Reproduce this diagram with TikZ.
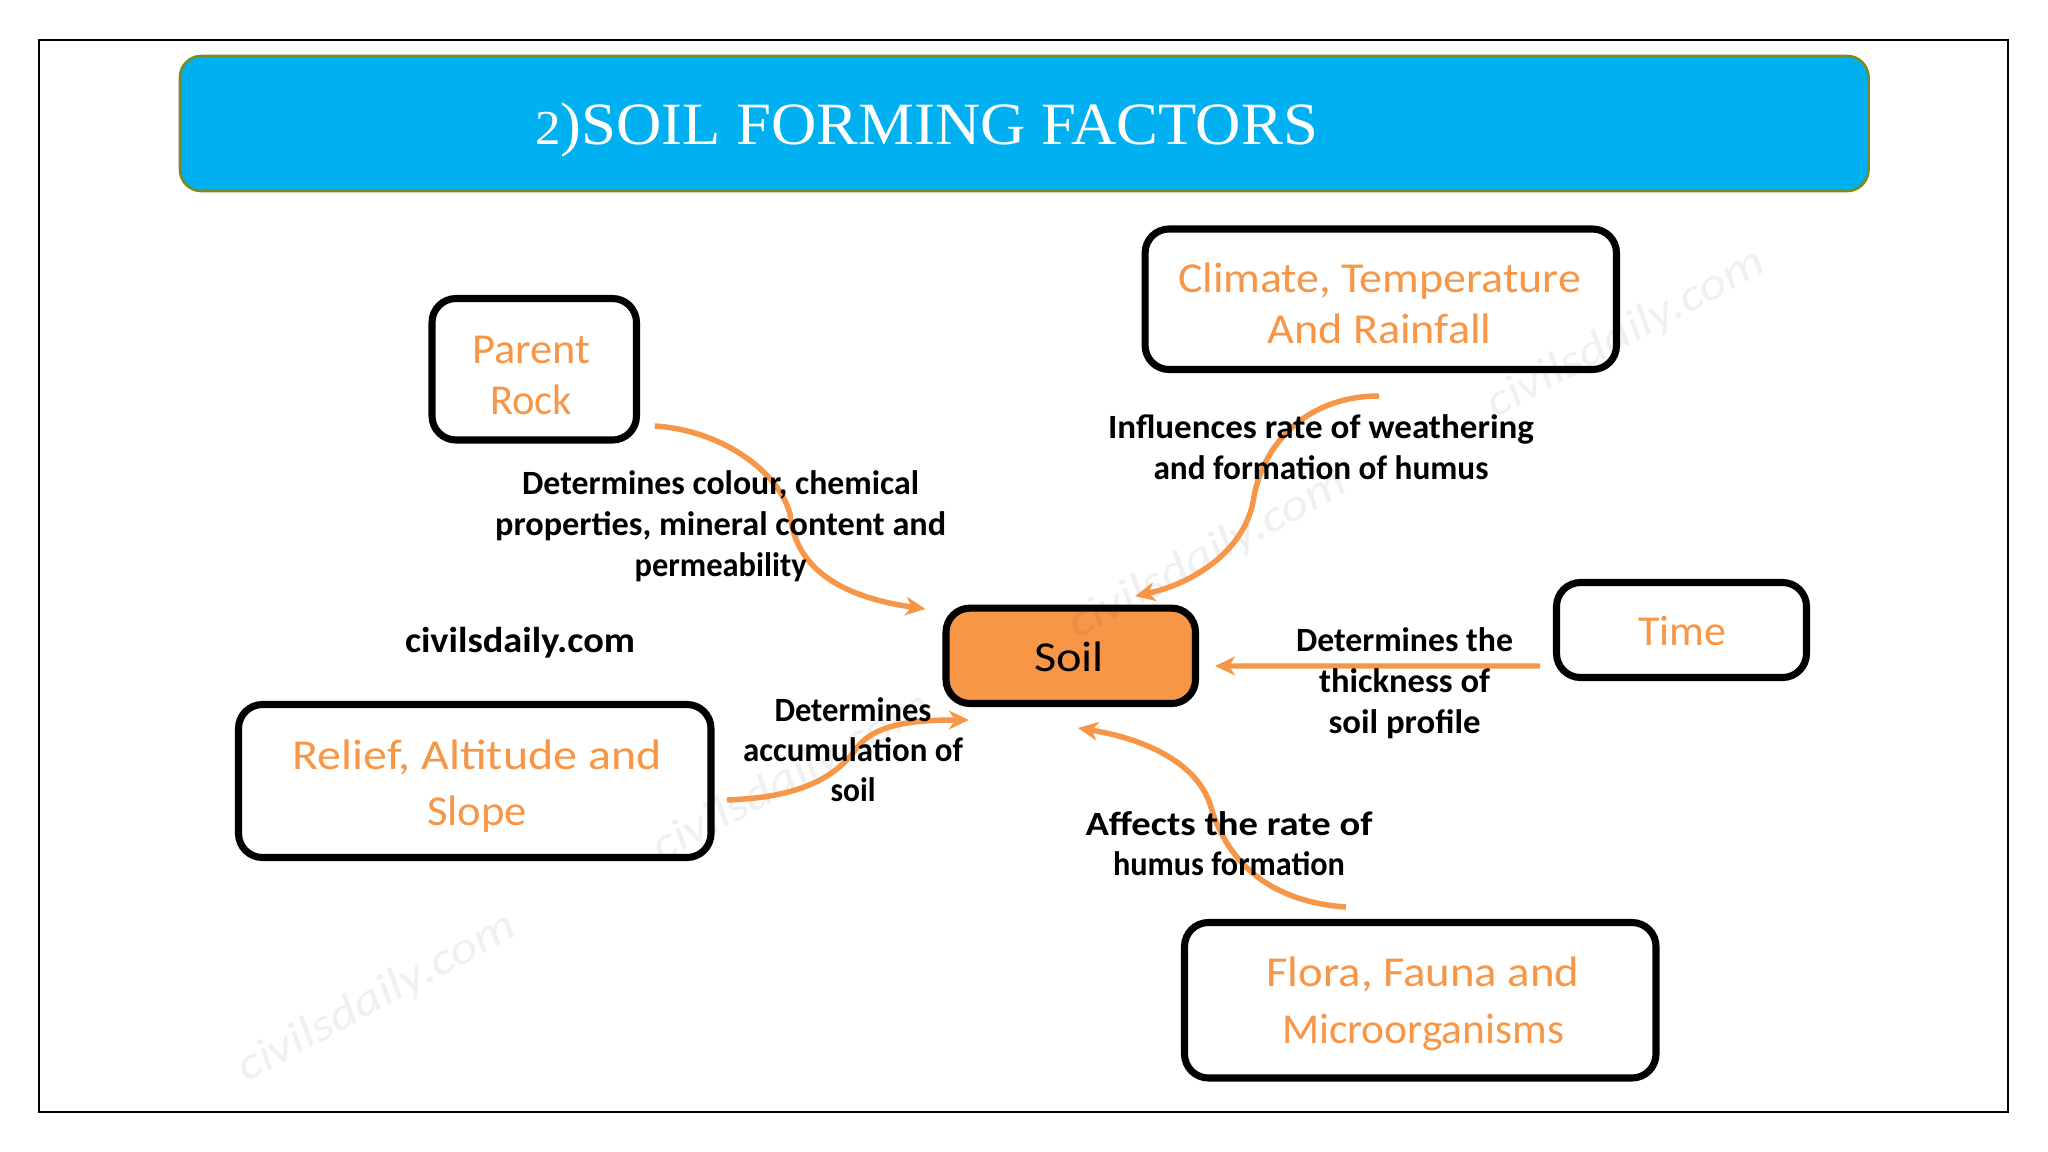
\documentclass[tikz,border=0pt]{standalone}
\usepackage{fontspec}
\usepackage{graphicx}
\usetikzlibrary{arrows.meta}
\setmainfont{Carlito}
\newfontfamily\titlefont{Liberation Serif}
\definecolor{soilorange}{HTML}{F79646}
\definecolor{bannerblue}{HTML}{00B0F0}
\definecolor{banneredge}{HTML}{7A8B22}
\def\px{*0.75pt}
\newsavebox\fitbox
\newcommand\fitw[2]{\sbox\fitbox{#2}\pgfmathsetmacro\fitr{(#1*0.75)/(\wd\fitbox)}\scalebox{\fitr}[1]{\usebox\fitbox}}
\newcommand\twolines[2]{\begin{tabular}[t]{@{}c@{}}#1\\#2\end{tabular}}
\newcommand\threelines[3]{\begin{tabular}[t]{@{}c@{}}#1\\#2\\#3\end{tabular}}
\tikzset{
  x=0.75pt,y=-0.75pt,
  factorbox/.style={draw=black,line width=5.3pt,fill=white,rounded corners=18pt,inner sep=0pt,outer sep=0pt},
  factortext/.style={anchor=base,inner sep=0pt,outer sep=0pt,text=soilorange,font=\fontsize{32}{38.25}\selectfont},
  reliefflora/.style={factortext,font=\fontsize{32}{42.5}\selectfont},
  linktext/.style={anchor=base,inner sep=0pt,outer sep=0pt,text=black,font=\fontsize{25.5}{30.75}\selectfont\bfseries},
  link/.style={draw=soilorange,line width=4.1pt,-{Stealth[length=15pt,width=14pt,inset=4.5pt]}},
  watermark/.style={inner sep=0pt,rotate=28.5,text=black,text opacity=0.06,font=\fontsize{34}{40}\selectfont\itshape}
}
\begin{document}
\begin{tikzpicture}
\useasboundingbox (0,0) rectangle (2048,1152);
\fill[white] (0,0) rectangle (2048,1152);
\node[draw=black,line width=1.5pt,inner sep=0pt,outer sep=0pt,minimum width=1969.5\px,minimum height=1072\px] (frame) at (1023.25,576) {};
\node[draw=banneredge,fill=bannerblue,line width=2pt,rounded corners=16pt,inner sep=0pt,minimum width=1688.5\px,minimum height=135\px] (banner) at (1024.25,123.5) {};
\node[anchor=base,inner sep=0pt,text=white,font=\titlefont\fontsize{45}{54}\selectfont] (title) at (926.5,145) {\fitw{783}{{\fontsize{36.6}{54}\selectfont 2})SOIL FORMING FACTORS}};

\node[factorbox,minimum width=204.5\px,minimum height=141.5\px] (parent) at (534.25,369.25) {};
\node[factorbox,minimum width=471.4\px,minimum height=140.5\px] (climate) at (1380.8,299.25) {};
\node[factorbox,fill=soilorange,minimum width=249.5\px,minimum height=95.4\px] (soil) at (1070.75,655.8) {};
\node[factorbox,minimum width=250\px,minimum height=95\px] (time) at (1681.5,630) {};
\node[factorbox,minimum width=472.5\px,minimum height=153\px] (relief) at (474.75,781) {};
\node[factorbox,minimum width=471.5\px,minimum height=155.5\px] (flora) at (1420.25,1000.25) {};

\node[watermark] (wm1) at (377,998) {\fitw{310}{civilsdaily.com}};
\node[watermark] (wm2) at (1626,334) {\fitw{310}{civilsdaily.com}};
\node[watermark] (wm3) at (1208,555) {\fitw{310}{civilsdaily.com}};
\node[watermark] (wm4) at (792,778) {\fitw{310}{civilsdaily.com}};

\coordinate (parentOut) at ([shift={(18.25,-14)}]parent.south east);
\coordinate (climateOut) at ([shift={(-1.8,26.5)}]climate.south);
\coordinate (reliefOut) at ([shift={(16,19)}]relief.east);
\coordinate (timeOut) at ([shift={(-16.5,36)}]time.west);
\coordinate (floraOut) at ([shift={(-74.25,-15.5)}]flora.north);
\coordinate (soilA) at ([shift={(-20.5,0.9)}]soil.north west);
\coordinate (soilB) at ([shift={(64.25,-12)}]soil.north);
\coordinate (soilC) at ([shift={(23,16.5)}]soil.south west);
\coordinate (soilD) at ([shift={(19.5,10.2)}]soil.east);
\coordinate (soilE) at ([shift={(7.25,24.5)}]soil.south);

\draw[link] (parentOut) .. controls (720,430) and (778,470) .. (790,514) .. controls (795,565) and (835,596) .. (soilA);
\draw[link] (climateOut) .. controls (1310,396) and (1265,440) .. (1254,496) .. controls (1248,545) and (1200,582) .. (soilB);
\draw[link] (reliefOut) .. controls (785,798) and (830,785) .. (856,749) .. controls (875,722) and (920,720) .. (soilC);
\draw[link] (timeOut) -- (soilD);
\draw[link] (floraOut) .. controls (1285,903) and (1230,875) .. (1210,804) .. controls (1195,760) and (1140,738) .. (soilE);

\node[factortext] (parentText) at (531,363) {\twolines{\fitw{118}{Parent}}{\fitw{82}{Rock}}};
\node[factortext] (climateText) at (1379.5,292) {\twolines{\fitw{403}{Climate, Temperature}}{\fitw{224}{And Rainfall}}};
\node[factortext,text=black] (soilText) at (1069,671) {\fitw{70}{Soil}};
\node[factortext] (timeText) at (1682,645) {\fitw{88}{Time}};
\node[reliefflora,font=\fontsize{32}{42}\selectfont] (reliefText) at (477,769) {\twolines{\fitw{369}{Relief, Altitude and}}{\fitw{100}{Slope}}};
\node[reliefflora] (floraText) at (1423,986.6) {\twolines{\fitw{313}{Flora, Fauna and}}{\fitw{282}{Microorganisms}}};

\node[linktext] (parentLabel) at (720.7,494) {\threelines{\fitw{397}{Determines colour, chemical}}{\fitw{451}{properties, mineral content and}}{\fitw{172}{permeability}}};
\node[linktext] (climateLabel) at (1321,438) {\twolines{\fitw{426}{Influences rate of weathering}}{\fitw{335}{and formation of humus}}};
\node[linktext,font=\fontsize{25.5}{30}\selectfont\bfseries] (reliefLabel) at (853,721) {\threelines{\fitw{157}{Determines}}{\fitw{220}{accumulation of}}{\fitw{45}{soil}}};
\node[linktext] (timeLabel) at (1404.5,651.6) {\threelines{\fitw{217}{Determines the}}{\fitw{171}{thickness of}}{\fitw{152}{soil profile}}};
\node[linktext,font=\fontsize{25.5}{30}\selectfont\bfseries] (floraLabel) at (1229,835) {\twolines{\fitw{287}{Affects the rate of}}{\fitw{232}{humus formation}}};
\node[linktext,font=\fontsize{27}{32}\selectfont\bfseries] (siteLabel) at (520,652) {\fitw{230}{civilsdaily.com}};
\end{tikzpicture}
\end{document}
